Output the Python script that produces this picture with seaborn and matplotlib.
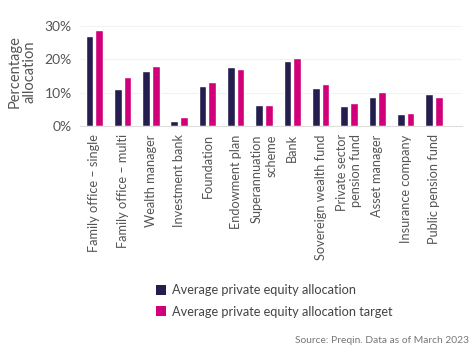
import matplotlib
matplotlib.use("Agg")
import matplotlib.pyplot as plt
import seaborn as sns
import pandas as pd
from matplotlib.patches import Patch

categories = ["Family office – single", "Family office – multi", "Wealth manager",
              "Investment bank", "Foundation", "Endowment plan",
              "Superannuation\nscheme", "Bank", "Sovereign wealth fund",
              "Private sector\npension fund", "Asset manager", "Insurance company",
              "Public pension fund"]
allocation = [27.1, 11.1, 16.4, 1.5, 12.1, 17.6, 6.4, 19.6, 11.5, 6.1, 8.8, 3.6, 9.7]
target = [28.9, 14.6, 17.9, 2.7, 13.3, 17.0, 6.4, 20.4, 12.7, 6.9, 10.2, 3.9, 8.8]
series = ["Average private equity allocation", "Average private equity allocation target"]
yticks = [0, 10, 20, 30]
ytick_labels = ["0%", "10%", "20%", "30%"]

colors = ["#241E4E", "#D1007A"]
text_color = "#555555"

df = pd.DataFrame({
    "category": categories * 2,
    "value": allocation + target,
    "series": [series[0]] * len(categories) + [series[1]] * len(categories),
})

sns.set_style("white")
plt.rcParams["font.family"] = ["Lato", "DejaVu Sans"]

fig = plt.figure(figsize=(4.74, 3.54), dpi=100)
ax = fig.add_axes([0.169, 0.644, 0.806, 0.283])

sns.barplot(data=df, x="category", y="value", hue="series", palette=colors,
            order=categories, hue_order=series, width=0.68, gap=0.2,
            legend=False, ax=ax, saturation=1)

ax.set_xlim(-0.5, 13.0)
ax.set_ylim(0, 30)
ax.set_yticks(yticks)
ax.set_yticklabels(ytick_labels, fontsize=10, color=text_color)
ax.yaxis.grid(True, color="#F2F2F2", linewidth=0.8)
ax.set_axisbelow(True)
ax.tick_params(axis="both", length=0, pad=6)
ax.set_xticks(range(len(categories)))
ax.set_xticklabels(categories, rotation=90, fontsize=9.2, color=text_color,
                   va="top", ha="center", multialignment="right")
ax.tick_params(axis="x", pad=6)
for s in ["top", "right", "left"]:
    ax.spines[s].set_visible(False)
ax.spines["bottom"].set_color("#DDDDDD")
ax.spines["bottom"].set_linewidth(0.8)
ax.set_xlabel("")
ax.set_ylabel("")
fig.text(22 / 474, 1 - 72 / 354, "Percentage\nallocation", rotation=90,
         ha="center", va="center", multialignment="center",
         fontsize=10.5, color=text_color, linespacing=1.1)

handles = [Patch(facecolor=c, edgecolor="none") for c in colors]
fig.legend(handles, series, loc="upper left", bbox_to_anchor=(0.318, 0.212),
           frameon=False, fontsize=9.2, labelcolor="#444444", handlelength=0.8,
           handleheight=0.8, handletextpad=0.45, labelspacing=0.75, borderaxespad=0)

fig.text(0.99, 0.025, "Source: Preqin. Data as of March 2023", ha="right", va="bottom",
         fontsize=7.4, color="#777777")

fig.savefig("out.png", dpi=100)
